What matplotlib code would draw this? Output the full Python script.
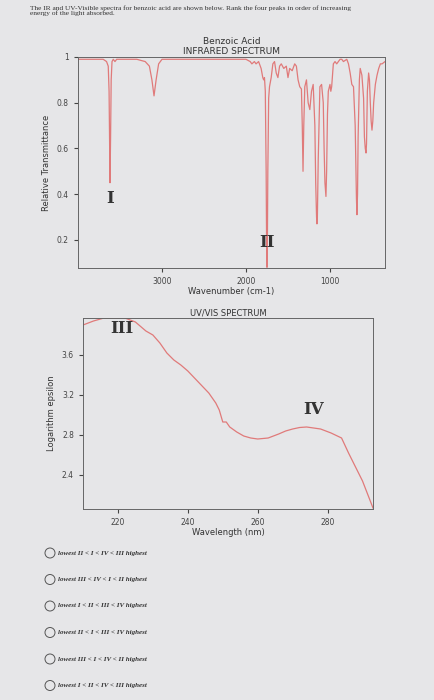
import matplotlib
matplotlib.use("Agg")
import matplotlib.pyplot as plt
from matplotlib.patches import Circle

ir_wn = [4000,3800,3700,3660,3640,3630,3625,3619,3612,3605,3595,3580,3560,3540,3500,3300,3200,3150,3120,3095,3070,3040,3000,2800,2500,2200,2000,1950,1930,1900,1880,1850,1820,1800,1790,1780,1770,1760,1755,1750,1745,1740,1730,1720,1700,1680,1660,1640,1620,1600,1580,1550,1520,1500,1480,1450,1420,1400,1380,1360,1340,1330,1321,1312,1300,1280,1260,1240,1220,1200,1180,1170,1160,1155,1150,1140,1120,1100,1080,1070,1060,1048,1040,1030,1020,1000,990,980,960,940,920,900,880,860,840,800,780,760,740,720,700,690,685,679,672,665,650,640,620,600,590,580,571,565,555,540,530,520,510,500,490,480,460,440,420,400,380,345]
ir_t = [0.99,0.99,0.99,0.98,0.96,0.85,0.65,0.45,0.65,0.9,0.98,0.99,0.98,0.99,0.99,0.99,0.98,0.96,0.9,0.83,0.9,0.97,0.99,0.99,0.99,0.99,0.99,0.98,0.97,0.98,0.97,0.98,0.95,0.91,0.9,0.91,0.85,0.5,0.2,0.08,0.2,0.5,0.82,0.87,0.91,0.97,0.98,0.93,0.91,0.96,0.97,0.95,0.96,0.91,0.95,0.94,0.97,0.96,0.9,0.87,0.86,0.7,0.5,0.7,0.87,0.9,0.8,0.77,0.85,0.88,0.7,0.45,0.3,0.27,0.3,0.55,0.87,0.88,0.8,0.6,0.45,0.39,0.5,0.75,0.85,0.88,0.85,0.87,0.97,0.98,0.97,0.98,0.99,0.99,0.98,0.99,0.97,0.93,0.88,0.87,0.7,0.5,0.38,0.31,0.4,0.65,0.9,0.95,0.92,0.82,0.65,0.6,0.58,0.62,0.85,0.93,0.9,0.8,0.72,0.68,0.72,0.8,0.88,0.92,0.95,0.97,0.97,0.98]

uv_wl = [210,213,216,219,222,225,228,230,232,234,236,238,240,243,246,248,249,250,251,252,254,256,258,260,263,266,268,270,272,274,276,278,281,284,286,288,290,293]
uv_eps = [3.9,3.94,3.97,3.97,3.97,3.93,3.84,3.8,3.72,3.62,3.55,3.5,3.44,3.33,3.22,3.12,3.05,2.93,2.93,2.88,2.83,2.79,2.77,2.76,2.77,2.81,2.84,2.86,2.875,2.88,2.87,2.86,2.82,2.77,2.62,2.48,2.34,2.07]

options = ["lowest II < I < IV < III highest",
           "lowest III < IV < I < II highest",
           "lowest I < II < III < IV highest",
           "lowest II < I < III < IV highest",
           "lowest III < I < IV < II highest",
           "lowest I < II < IV < III highest"]

bg = "#e6e6e8"
red = "#e07a7a"
W, H = 435, 700
fig = plt.figure(figsize=(4.35, 7), dpi=100, facecolor=bg)

def ax_rect(x0, y0, x1, y1):
    return [x0 / W, 1 - y1 / H, (x1 - x0) / W, (y1 - y0) / H]

fig.text(30/W, 1-5/H, "The IR and UV-Visible spectra for benzoic acid are shown below. Rank the four peaks in order of increasing\nenergy of the light absorbed.",
         fontsize=5.3, family="Liberation Serif", va="top", color="#333", linespacing=0.95)

ax1 = fig.add_axes(ax_rect(78, 57, 385, 268))
ax1.set_facecolor(bg)
ax1.plot(ir_wn, ir_t, color=red, lw=0.9)
ax1.set_xlim(4000, 345)
ax1.set_ylim(0.077, 1.0)
ax1.set_xticks([3000, 2000, 1000])
ax1.set_yticks([0.2, 0.4, 0.6, 0.8, 1.0])
ax1.set_yticklabels(["0.2", "0.4", "0.6", "0.8", "1"])
ax1.tick_params(labelsize=5.5, length=3, colors="#444")
ax1.set_title("Benzoic Acid\nINFRARED SPECTRUM", fontsize=6.5, color="#333", pad=2)
ax1.set_xlabel("Wavenumber (cm-1)", fontsize=6, color="#333", labelpad=1)
ax1.set_ylabel("Relative Transmittance", fontsize=6, color="#333")
ax1.text(3619, 0.38, "I", fontsize=12, family="DejaVu Serif", weight="bold", ha="center", va="center", color="#333")
ax1.text(1750, 0.19, "II", fontsize=12, family="DejaVu Serif", weight="bold", ha="center", va="center", color="#333")
for s in ax1.spines.values():
    s.set_color("#666"); s.set_linewidth(0.7)

ax2 = fig.add_axes(ax_rect(83, 318, 373, 509))
ax2.set_facecolor(bg)
ax2.plot(uv_wl, uv_eps, color=red, lw=0.9)
ax2.set_xlim(210, 293)
ax2.set_ylim(2.06, 3.97)
ax2.set_xticks([220, 240, 260, 280])
ax2.set_yticks([2.4, 2.8, 3.2, 3.6])
ax2.tick_params(labelsize=5.5, length=3, colors="#444")
ax2.set_title("UV/VIS SPECTRUM", fontsize=6, color="#333", pad=2)
ax2.set_xlabel("Wavelength (nm)", fontsize=6, color="#333", labelpad=1)
ax2.set_ylabel("Logarithm epsilon", fontsize=6, color="#333")
ax2.text(221, 3.86, "III", fontsize=12, family="DejaVu Serif", weight="bold", ha="center", va="center", color="#333")
ax2.text(276, 3.05, "IV", fontsize=12, family="DejaVu Serif", weight="bold", ha="center", va="center", color="#333")
for s in ax2.spines.values():
    s.set_color("#666"); s.set_linewidth(0.7)

for i, opt in enumerate(options):
    y = 553 + i * 26.5
    fig.patches.append(Circle((50 / W * fig.bbox.width, (1 - y / H) * fig.bbox.height), 5,
                              transform=None, fill=False, ec="#555", lw=0.7))
    fig.text(58 / W, 1 - y / H, opt, fontsize=5, family="Liberation Serif", style="italic",
             weight="bold", va="center", color="#333")

fig.savefig("out.png", dpi=100, facecolor=bg)
